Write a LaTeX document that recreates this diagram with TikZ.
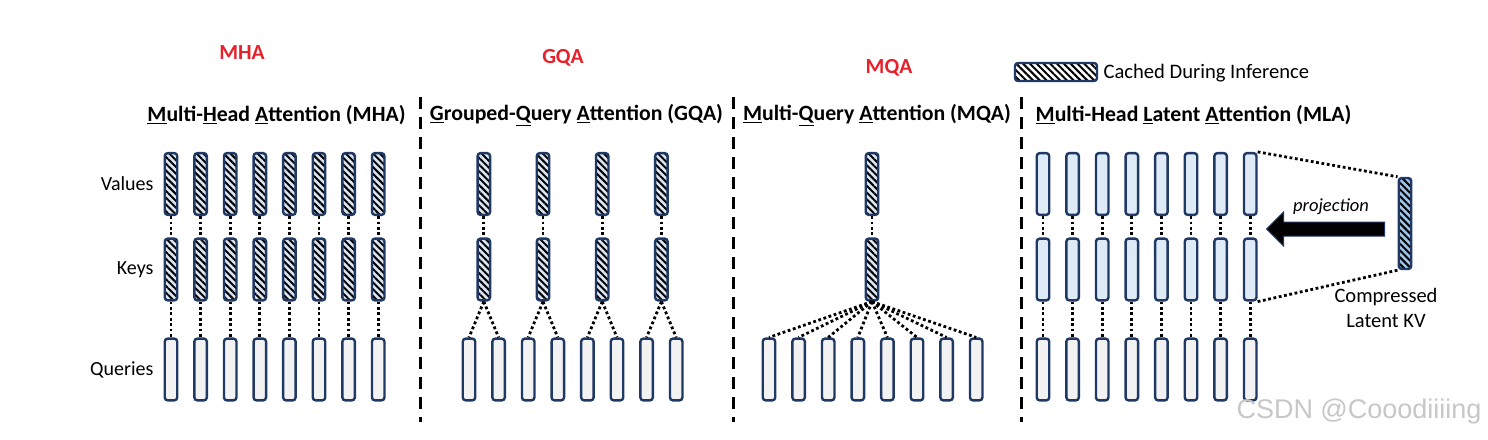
\documentclass[tikz,border=0pt]{standalone}
\usepackage{fontspec}
\setmainfont{Carlito}
\newfontfamily\wmfont{Liberation Sans}
\usetikzlibrary{patterns.meta,shapes.arrows}
\definecolor{navy}{HTML}{1F3864}
\definecolor{lblue}{HTML}{DAE6F4}
\definecolor{mlablue}{HTML}{DEEBF7}
\definecolor{latblue}{HTML}{9DC3E6}
\definecolor{qgray}{HTML}{F2F2F2}
\definecolor{redlab}{HTML}{E8202A}
\tikzset{
  bar/.style={draw=navy, line width=2.4pt, rounded corners=3pt, minimum width=12.5pt, inner sep=0pt, minimum height=61.8pt},
  hatch/.style={pattern={Lines[angle=-45,distance=4.8pt,line width=2pt]}},
  cached/.style={bar, preaction={fill=lblue}, hatch},
  qbar/.style={bar, fill=qgray},
  mlabar/.style={bar, fill=mlablue},
  dotline/.style={line width=2.8pt, dash pattern=on 2.8pt off 2.6pt},
  sepline/.style={line width=3pt, dash pattern=on 12pt off 8pt},
  title/.style={font=\fontsize{21.8}{25}\selectfont\bfseries},
  redl/.style={font=\fontsize{21.5}{24}\selectfont\bfseries, text=redlab},
  rowlab/.style={font=\fontsize{20}{23}\selectfont, anchor=east}
}
\begin{document}
\begin{tikzpicture}[x=1pt,y=-1pt]
\useasboundingbox (0,0) rectangle (1488,439);
% red labels
\node[redl] (rmha) at (242,53) {MHA};
\node[redl] (rgqa) at (563,58) {GQA};
\node[redl] (rmqa) at (889,68) {MQA};
% legend
\node[bar, minimum width=82pt, minimum height=18pt, preaction={fill=white}, hatch] (leg) at (1056,72) {};
\node[font=\fontsize{20.6}{23}\selectfont, anchor=west] (legt) at (1100,73) {Cached During Inference};
% titles
\node[title] (t1) at (276.5,115) {\underline{M}ulti-\underline{H}ead \underline{A}ttention (MHA)};
\node[title] (t2) at (576.5,115) {\underline{G}rouped-\underline{Q}uery \underline{A}ttention (GQA)};
\node[title] (t3) at (877,115) {\underline{M}ulti-\underline{Q}uery \underline{A}ttention (MQA)};
\node[title] (t4) at (1193.5,115) {\underline{M}ulti-Head \underline{L}atent \underline{A}ttention (MLA)};
% row labels
\node[rowlab] (lv) at (157,184) {Values};
\node[rowlab] (lk) at (157,270) {Keys};
\node[rowlab] (lq) at (157,370) {Queries};
% separators
\foreach \x/\n in {420/a,733/b,1021/c}{
  \coordinate (s\n1) at (\x,97);
  \coordinate (s\n2) at (\x,422);
  \draw[sepline] (s\n1) -- (s\n2);
}
% MHA
\foreach \i in {0,...,7}{
  \pgfmathsetmacro{\xx}{171+29.6*\i}
  \node[cached] (mv\i) at (\xx,184) {};
  \node[cached] (mk\i) at (\xx,269.5) {};
  \node[qbar] (mq\i) at (\xx,369.5) {};
  \draw[dotline] (mv\i.south) -- (mk\i.north);
  \draw[dotline] (mk\i.south) -- (mq\i.north);
}
% GQA
\foreach \i in {0,...,7}{
  \pgfmathsetmacro{\xx}{469+29.6*\i}
  \node[qbar] (gq\i) at (\xx,369.5) {};
}
\foreach \j in {0,...,3}{
  \pgfmathsetmacro{\xx}{483.8+59.2*\j}
  \pgfmathtruncatemacro{\a}{2*\j}
  \pgfmathtruncatemacro{\b}{2*\j+1}
  \node[cached] (gv\j) at (\xx,184) {};
  \node[cached] (gk\j) at (\xx,269.5) {};
  \draw[dotline] (gv\j.south) -- (gk\j.north);
  \draw[dotline] (gk\j.south) -- (gq\a.north);
  \draw[dotline] (gk\j.south) -- (gq\b.north);
}
% MQA
\node[cached] (qv) at (872,184) {};
\node[cached] (qk) at (872,269.5) {};
\draw[dotline] (qv.south) -- (qk.north);
\foreach \i in {0,...,7}{
  \pgfmathsetmacro{\xx}{769+29.6*\i}
  \node[qbar] (qq\i) at (\xx,369.5) {};
  \draw[dotline] (qk.south) -- (qq\i.north);
}
% MLA
\foreach \i in {0,...,7}{
  \pgfmathsetmacro{\xx}{1043+29.6*\i}
  \node[mlabar] (lv\i) at (\xx,184) {};
  \node[mlabar] (lk\i) at (\xx,269.5) {};
  \node[qbar] (lq\i) at (\xx,369.5) {};
  \draw[dotline] (lv\i.south) -- (lk\i.north);
  \draw[dotline] (lk\i.south) -- (lq\i.north);
}
\node[bar, minimum height=91pt, preaction={fill=latblue}, hatch] (lat) at (1405,223.5) {};
\draw[dotline] (lv7.north east) -- (lat.north west);
\draw[dotline] (lk7.south east) -- (lat.south west);
\node[single arrow, shape border rotate=180, fill=black, draw=navy, line width=1pt,
      minimum height=118pt, minimum width=33pt, inner sep=6.5pt, single arrow head extend=10pt] (proj) at (1329,229) {};
\node[font=\fontsize{18.5}{21}\selectfont\itshape] (projt) at (1331,207) {projection};
\node[font=\fontsize{20.5}{25}\selectfont, align=center] (latt) at (1386,308) {Compressed\\Latent KV};
% watermark
\node[font=\wmfont\fontsize{27}{30}\selectfont, text=black!22] (wm) at (1359,412) {CSDN @Cooodiiiing};
\end{tikzpicture}
\end{document}
